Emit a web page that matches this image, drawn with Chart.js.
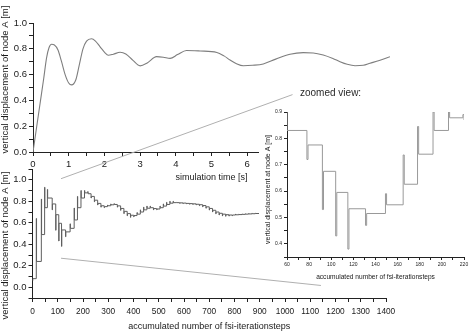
<!DOCTYPE html>
<html>
<head>
<meta charset="utf-8">
<title>vertical displacement of node A</title>
<script src="https://cdn.jsdelivr.net/npm/chart.js@4"></script>
<style>
  body { margin: 0; background: #fff; }
  #wrap { position: relative; width: 474px; height: 332px; }
  #wrap canvas { position: absolute; left: 0; top: 0; }
</style>
</head>
<body>
<div id="wrap">
  <canvas id="timeChart" width="474" height="332"></canvas>
  <canvas id="iterChart" width="474" height="332"></canvas>
  <canvas id="zoomChart" width="474" height="332"></canvas>
</div>
<script>
// upper plot: displacement over simulation time
var simTime = [0, 0.1, 0.2, 0.3, 0.38, 0.45, 0.52, 0.6, 0.7, 0.8, 0.9, 1.0, 1.08, 1.2, 1.3, 1.4, 1.5, 1.64, 1.75, 1.88,
  2.0, 2.11, 2.25, 2.44, 2.6, 2.8, 3.0, 3.2, 3.46, 3.65, 3.84, 4.05, 4.3, 4.68, 5.15, 5.35, 5.52, 5.7, 5.89,
  6.15, 6.45, 6.8, 7.2, 7.57, 7.85, 8.13, 8.4, 8.6, 8.8, 9.02, 9.25, 9.44, 9.7, 10.0];
var timeDisp = [0, 0.19, 0.38, 0.57, 0.73, 0.81, 0.835, 0.83, 0.79, 0.70, 0.60, 0.535, 0.52, 0.56, 0.68, 0.80, 0.86, 0.878, 0.86, 0.815,
  0.775, 0.75, 0.758, 0.773, 0.76, 0.71, 0.668, 0.69, 0.739, 0.735, 0.726, 0.755, 0.787, 0.783, 0.772, 0.745, 0.713, 0.685, 0.669,
  0.672, 0.682, 0.72, 0.758, 0.77, 0.768, 0.752, 0.725, 0.70, 0.68, 0.669, 0.672, 0.688, 0.71, 0.739];

// lower plot + zoom: one entry per time step (first iteration, first value, converged value)
var stepStart = [0, 15, 35, 48, 59, 78, 92, 104, 115, 131, 149, 165, 178, 192, 206, 219, 232, 245, 258, 271,
  284, 297, 310, 323, 336, 349, 362, 375, 388, 401, 414, 427, 440, 453, 466, 479, 492, 505, 518, 531,
  544, 557, 570, 583, 596, 609, 622, 635, 648, 661, 674, 687, 700, 713, 726, 739, 752, 765, 778, 791,
  804, 817, 830, 843, 856, 869, 882];
var stepFirst = [0.06, 0.64, 0.82, 0.93, 0.91, 0.72, 0.53, 0.43, 0.38, 0.47, 0.59, 0.737, 0.845, 0.90, 0.90, 0.89, 0.83, 0.795, 0.765, 0.745,
  0.74, 0.765, 0.775, 0.778, 0.745, 0.715, 0.685, 0.665, 0.65, 0.655, 0.695, 0.72, 0.745, 0.755, 0.755, 0.72, 0.72, 0.755, 0.775, 0.79,
  0.80, 0.80, 0.79, 0.78, 0.778, 0.775, 0.772, 0.77, 0.765, 0.758, 0.748, 0.735, 0.718, 0.70, 0.683, 0.672, 0.663, 0.66, 0.662, 0.665,
  0.68, 0.68, 0.682, 0.684, 0.686, 0.688, 0.69];
var stepConv = [0.08, 0.24, 0.49, 0.74, 0.83, 0.775, 0.675, 0.595, 0.533, 0.515, 0.548, 0.626, 0.74, 0.83, 0.878, 0.87, 0.845, 0.81, 0.78, 0.758,
  0.75, 0.758, 0.767, 0.77, 0.757, 0.733, 0.706, 0.685, 0.67, 0.667, 0.68, 0.70, 0.72, 0.735, 0.74, 0.732, 0.728, 0.74, 0.755, 0.77,
  0.782, 0.787, 0.787, 0.785, 0.783, 0.78, 0.778, 0.776, 0.772, 0.768, 0.76, 0.748, 0.733, 0.716, 0.70, 0.688, 0.68, 0.675, 0.672, 0.672,
  0.674, 0.676, 0.678, 0.68, 0.682, 0.684, 0.686];
var lastIter = 900;

var FONT = 'Liberation Sans, Arial, sans-serif';
var INK = '#1a1a1a';
Chart.defaults.font.family = FONT;
Chart.defaults.color = INK;

var timePoints = simTime.map(function (t, i) { return { x: t, y: timeDisp[i] }; });
var iterPoints = [];
stepStart.forEach(function (s, i) {
  iterPoints.push({ x: s, y: stepFirst[i] });
  iterPoints.push({ x: s + 1, y: stepConv[i] });
});
iterPoints.push({ x: lastIter, y: stepConv[stepConv.length - 1] });

// rotated y axis title, drawn beside the axis
Chart.register({
  id: 'sideTitle',
  afterDraw: function (chart, args, o) {
    if (!o.text) return;
    var a = chart.chartArea, ctx = chart.ctx;
    ctx.save();
    ctx.translate(a.left - o.dx, (a.top + a.bottom) / 2 + o.dy);
    ctx.rotate(-Math.PI / 2);
    ctx.font = o.size + 'px ' + FONT;
    ctx.fillStyle = INK;
    ctx.textAlign = 'center';
    ctx.textBaseline = 'middle';
    ctx.fillText(o.text, 0, 0);
    ctx.restore();
  }
});

function axis(min, max, step, label, size, tick, pad, fit) {
  return {
    type: 'linear', min: min, max: max,
    border: { display: true, color: '#222', width: 1 },
    grid: { display: true, drawOnChartArea: false, drawTicks: true, tickLength: tick, tickColor: '#222' },
    ticks: { stepSize: step, autoSkip: false, maxRotation: 0, minRotation: 0, padding: pad,
      font: { size: size }, color: INK, callback: label },
    afterFit: fit
  };
}

var common = {
  responsive: false, animation: false, devicePixelRatio: 1, events: [],
  plugins: { legend: { display: false }, tooltip: { enabled: false } }
};

function opts(layout, x, y, side) {
  return Object.assign({}, common, {
    layout: { padding: layout },
    scales: { x: x, y: y },
    plugins: Object.assign({}, common.plugins, { sideTitle: side })
  });
}

// upper chart
var tx = axis(0, 10, 0.5, function (v) { return v % 1 === 0 ? v : ''; }, 9.5, 4, 3,
  function (s) { s.height = 31; });
tx.title = { display: true, text: 'simulation time [s]', font: { size: 9 }, color: INK, padding: 0 };
var ty = axis(0, 1, 0.1, function (v) { return Math.round(v * 10) % 2 === 0 ? v.toFixed(1) : ''; }, 9.5, 4, 2,
  function (s) { s.width = 33; });

var timeChart = new Chart(document.getElementById('timeChart'), {
  type: 'line',
  data: { datasets: [{ data: timePoints, borderColor: '#7e7e7e', borderWidth: 1.1, pointRadius: 0,
    cubicInterpolationMode: 'monotone' }] },
  options: opts({ left: 0, top: 23, right: 84, bottom: 149 }, tx, ty,
    { text: 'vertical displacement of node A [m]', size: 9.5, dx: 27.5, dy: -8 })
});

// lower chart
var ix = axis(0, 1400, 50, function (v) { return v % 100 === 0 ? v : ''; }, 8.3, 4, 5,
  function (s) { s.height = 34; });
ix.title = { display: true, text: 'accumulated number of fsi-iterationsteps', font: { size: 9 }, color: INK, padding: 0 };
var iy = axis(-0.1, 1.1, 0.1, function (v) { return Math.round(v * 10) % 2 === 0 ? v.toFixed(1) : ''; }, 9.5, 4, 2,
  function (s) { s.width = 32.5; });

var iterChart = new Chart(document.getElementById('iterChart'), {
  type: 'line',
  data: { datasets: [{ data: iterPoints, borderColor: '#5e5e5e', borderWidth: 1, pointRadius: 0, stepped: true }] },
  options: opts({ left: 0, top: 169, right: 88, bottom: 0 }, ix, iy,
    { text: 'vertical displacement of node A [m]', size: 9.5, dx: 27.5, dy: 12 })
});

// zoomed view, on a white panel, with the two guide lines
var linkFrom = [113, 1.01, 113, 0.27];   // iteration / displacement on lower chart
var linkTo = [65, 0.966, 90.7, 0.242];   // iteration / displacement on zoom chart

var zx = axis(60, 220, 10, function (v) { return v % 20 === 0 ? v : ''; }, 5, 3, 2,
  function (s) { s.height = 24; });
zx.title = { display: true, text: 'accumulated number of fsi-iterationsteps', font: { size: 6.6 }, color: INK, padding: 0 };
var zy = axis(0.35, 0.9, 0.05, function (v) { return Math.round(v * 100) % 10 === 0 ? v.toFixed(1) : ''; }, 5, 3, 2,
  function (s) { s.width = 20; });

var zoomPanel = {
  id: 'zoomPanel',
  beforeDraw: function (chart) {
    var a = chart.chartArea, ctx = chart.ctx;
    ctx.save();
    ctx.fillStyle = '#fff';
    ctx.fillRect(a.left - 28, a.top - 14, chart.width - a.left + 28, a.bottom - a.top + 41);
    ctx.restore();
  },
  afterDraw: function (chart) {
    var a = chart.chartArea, ctx = chart.ctx;
    var bx = iterChart.scales.x, by = iterChart.scales.y;
    var zx = chart.scales.x, zy = chart.scales.y;
    ctx.save();
    ctx.strokeStyle = '#b0b0b0';
    ctx.lineWidth = 1;
    ctx.beginPath();
    ctx.moveTo(bx.getPixelForValue(linkFrom[0]), by.getPixelForValue(linkFrom[1]));
    ctx.lineTo(zx.getPixelForValue(linkTo[0]), zy.getPixelForValue(linkTo[1]));
    ctx.moveTo(bx.getPixelForValue(linkFrom[2]), by.getPixelForValue(linkFrom[3]));
    ctx.lineTo(zx.getPixelForValue(linkTo[2]), zy.getPixelForValue(linkTo[3]));
    ctx.stroke();
    ctx.font = '10px ' + FONT;
    ctx.fillStyle = '#2a2a2a';
    ctx.textBaseline = 'middle';
    ctx.fillText('zoomed view:', a.left + 13, a.top - 19);
    ctx.restore();
  }
};

var zoomChart = new Chart(document.getElementById('zoomChart'), {
  type: 'line',
  data: { datasets: [{ data: iterPoints, borderColor: '#999', borderWidth: 1, pointRadius: 0, stepped: true }] },
  options: opts({ left: 267, top: 112, right: 10, bottom: 51 }, zx, zy,
    { text: 'vertical displacement at node A [m]', size: 7, dx: 18.5, dy: 5 }),
  plugins: [zoomPanel]
});
</script>
</body>
</html>
